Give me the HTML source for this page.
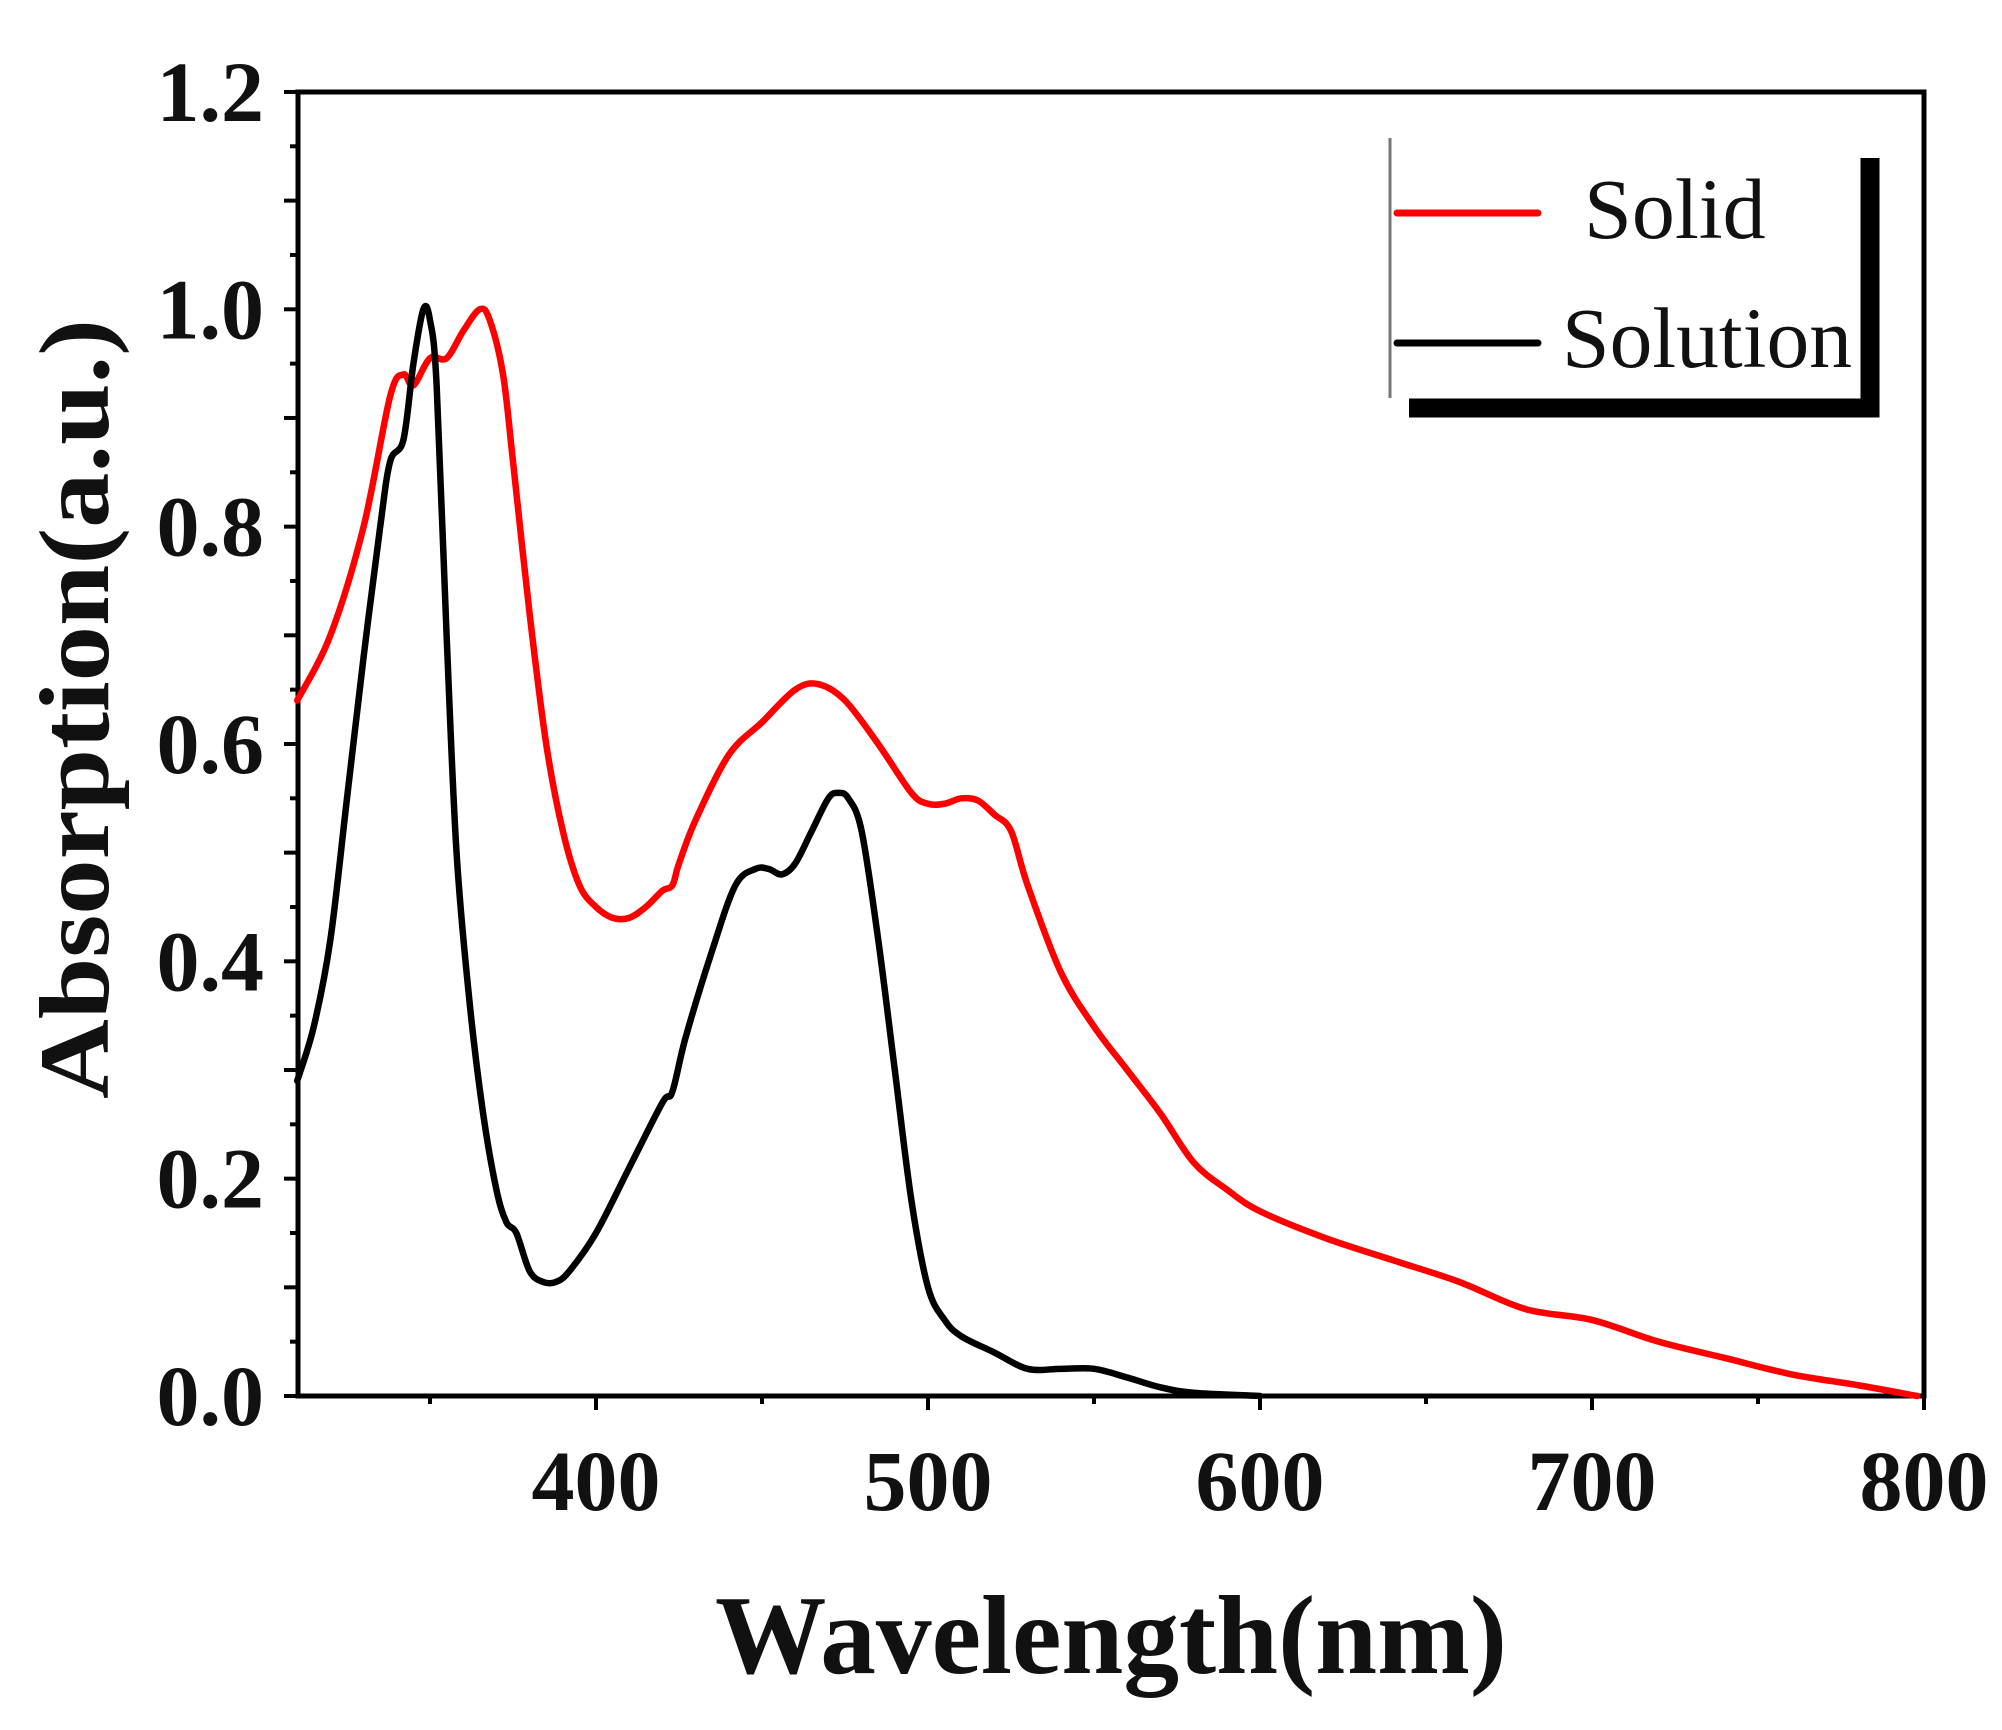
<!DOCTYPE html>
<html><head><meta charset="utf-8"><style>
html,body{margin:0;padding:0;background:#fff;}
svg{display:block;}
text{font-family:"Liberation Serif",serif;}
</style></head><body>
<svg id="s" width="2002" height="1730" viewBox="0 0 2002 1730" xmlns="http://www.w3.org/2000/svg">
<g id="ticks" stroke="#000" stroke-width="4"></g>
<rect x="298" y="92" width="1626" height="1304" fill="none" stroke="#000" stroke-width="5"/>
<g id="curves" fill="none" stroke-width="6.5" stroke-linejoin="round" stroke-linecap="round"></g>
<g font-weight="bold" font-size="86" fill="#111">
<g id="ylab" text-anchor="end"></g>
<g id="xlab" text-anchor="middle"></g>
</g>
<text x="1111" y="1673" font-size="112" font-weight="bold" text-anchor="middle" textLength="792" lengthAdjust="spacingAndGlyphs" fill="#111">Wavelength(nm)</text>
<text transform="translate(108,709) rotate(-90)" font-size="100" font-weight="bold" text-anchor="middle" textLength="780" lengthAdjust="spacingAndGlyphs" fill="#111">Absorption(a.u.)</text>
<line x1="1390" y1="138" x2="1390" y2="398" stroke="#777" stroke-width="3"/>
<line x1="1397" y1="213" x2="1538" y2="213" stroke="#f00" stroke-width="7" stroke-linecap="round"/>
<line x1="1397" y1="343" x2="1538" y2="343" stroke="#000" stroke-width="7" stroke-linecap="round"/>
<text x="1584" y="238" font-size="86" fill="#111">Solid</text>
<text x="1562" y="367" font-size="86" fill="#111" textLength="290" lengthAdjust="spacingAndGlyphs">Solution</text>
<path d="M1409 408 H1870 V158" fill="none" stroke="#000" stroke-width="19"/>
</svg>
<script>
var X=function(l){return 596+(l-400)*3.32;},Y=function(a){return 1396-a*1086.7;};
var ns="http://www.w3.org/2000/svg";
function el(p,t,at,tx){var e=document.createElementNS(ns,t);for(var k in at)e.setAttribute(k,at[k]);if(tx)e.textContent=tx;document.getElementById(p).appendChild(e);}
for(var i=0;i<=24;i++){var a=i*0.05,y=Y(a),L=(i%2==0)?14:8;el("ticks","line",{x1:298-L,y1:y,x2:298,y2:y});
 if(i%4==0)el("ylab","text",{x:264,y:y+29},a.toFixed(1));}
for(var l=350;l<=800;l+=50){var x=X(l),L=(l%100==0)?14:8;el("ticks","line",{x1:x,y1:1396,x2:x,y2:1396+L});
 if(l%100==0)el("xlab","text",{x:x,y:1510},String(l));}
var red=[[310,.64],[320,.70],[330,.80],[338,.92],[342,.94],[345,.93],[350,.955],[355,.955],[360,.98],[365,1.0],[368,.99],[372,.94],[375,.86],[380,.72],[385,.60],[390,.52],[395,.47],[400,.45],[405,.44],[410,.44],[415,.45],[420,.465],[423,.47],[425,.49],[430,.53],[440,.59],[450,.62],[460,.65],[467,.655],[475,.64],[485,.60],[495,.555],[500,.545],[505,.545],[510,.55],[515,.548],[520,.535],[525,.52],[530,.47],[540,.39],[550,.34],[560,.30],[570,.26],[580,.215],[590,.19],[600,.17],[620,.145],[640,.125],[660,.105],[680,.08],[700,.07],[720,.05],[740,.035],[760,.02],[780,.01],[798,0]];
var blk=[[310,.29],[315,.34],[320,.42],[325,.55],[330,.68],[335,.80],[338,.86],[342,.88],[345,.95],[348,1.0],[350,.99],[352,.93],[355,.70],[358,.50],[362,.36],[366,.26],[370,.19],[373,.16],[376,.15],[380,.115],[384,.105],[388,.105],[392,.115],[400,.15],[410,.21],[420,.27],[423,.28],[427,.33],[435,.41],[442,.47],[448,.485],[452,.485],[456,.48],[460,.49],[465,.52],[470,.55],[473,.555],[476,.55],[480,.52],[485,.42],[490,.30],[495,.18],[500,.10],[505,.07],[510,.055],[520,.04],[530,.025],[540,.025],[550,.025],[560,.017],[570,.008],[580,.003],[600,0]];
function path(d){var p=d.map(function(q){return [X(q[0]),Y(q[1])];});var s="M"+p[0][0]+" "+p[0][1];
 for(var i=0;i<p.length-1;i++){var a=p[Math.max(i-1,0)],b=p[i],c=p[i+1],e=p[Math.min(i+2,p.length-1)];
 s+=" C"+(b[0]+(c[0]-a[0])/6)+" "+(b[1]+(c[1]-a[1])/6)+" "+(c[0]-(e[0]-b[0])/6)+" "+(c[1]-(e[1]-b[1])/6)+" "+c[0]+" "+c[1];}return s;}
el("curves","path",{d:path(red),stroke:"#f00"});
el("curves","path",{d:path(blk),stroke:"#000"});
</script>
</body></html>
